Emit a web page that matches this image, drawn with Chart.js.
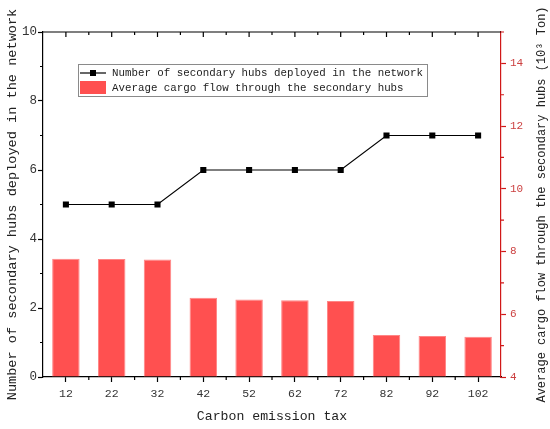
<!DOCTYPE html>
<html lang="en">
<head>
    <meta charset="UTF-8">
    <title>Secondary hubs vs carbon emission tax</title>
    <script src="https://cdn.jsdelivr.net/npm/chart.js"></script>
    <style>
        html, body { margin: 0; padding: 0; background: #fff; }
        #wrap { width: 550px; height: 429px; }
    </style>
</head>
<body>
    <div id="wrap"><canvas id="chart" width="550" height="429"></canvas></div>

    <script>
        // data
        const taxLabels = ['12', '22', '32', '42', '52', '62', '72', '82', '92', '102'];
        const hubCounts = [5, 5, 5, 6, 6, 6, 6, 7, 7, 7];
        const cargoFlow = [7.77, 7.76, 7.75, 6.53, 6.47, 6.45, 6.42, 5.34, 5.31, 5.28];

        const hubLabel = 'Number of secondary hubs deployed in the network';
        const cargoLabel = 'Average cargo flow through the secondary hubs';
        const cargoTitle = cargoLabel + ' (10\u00B3 Ton)';

        const FONT = "'Liberation Mono', 'DejaVu Sans Mono', monospace";
        const RED_AXIS = '#d01818';
        const RED_TEXT = '#cc4040';

        // minor ticks, top frame line, right title (reads bottom-up) and the boxed legend
        const framePlugin = {
            id: 'frame',
            afterDraw(chart) {
                const ctx = chart.ctx;
                const a = chart.chartArea;
                const x = chart.scales.x, y = chart.scales.y, y1 = chart.scales.y1;
                ctx.save();
                ctx.lineWidth = 1.2;
                ctx.strokeStyle = '#000';
                ctx.beginPath();
                ctx.moveTo(a.left, a.top);
                ctx.lineTo(a.right, a.top);
                const step = x.getPixelForTick(1) - x.getPixelForTick(0);
                for (let i = 0; i < taxLabels.length; i++) {
                    const px = x.getPixelForTick(i);
                    ctx.moveTo(px, a.top); ctx.lineTo(px, a.top + 5);
                    if (i < taxLabels.length - 1) {
                        ctx.moveTo(px + step / 2, a.top); ctx.lineTo(px + step / 2, a.top + 3);
                        ctx.moveTo(px + step / 2, a.bottom); ctx.lineTo(px + step / 2, a.bottom + 3);
                    }
                }
                for (let v = 1; v < 10; v += 2) {
                    const py = y.getPixelForValue(v);
                    ctx.moveTo(a.left, py); ctx.lineTo(a.left - 3, py);
                }
                ctx.stroke();

                ctx.strokeStyle = RED_AXIS;
                ctx.beginPath();
                for (let v = 5; v <= 15; v += 2) {
                    const py = y1.getPixelForValue(v);
                    ctx.moveTo(a.right, py); ctx.lineTo(a.right + 3, py);
                }
                ctx.stroke();

                // right axis title
                ctx.save();
                ctx.translate(542, (a.top + a.bottom) / 2);
                ctx.rotate(-Math.PI / 2);
                ctx.fillStyle = '#222';
                ctx.font = '12px ' + FONT;
                ctx.textAlign = 'center';
                ctx.textBaseline = 'middle';
                ctx.fillText(cargoTitle, 0, 0);
                ctx.restore();

                // legend
                const lx = 78, ly = 64, lw = 349, lh = 32;
                ctx.fillStyle = '#fff';
                ctx.fillRect(lx, ly, lw, lh);
                ctx.strokeStyle = '#8a8a8a';
                ctx.lineWidth = 1;
                ctx.strokeRect(lx + 0.5, ly + 0.5, lw, lh);

                const ds = chart.data.datasets;
                const r1 = 73, r2 = 88;
                ctx.strokeStyle = '#000';
                ctx.lineWidth = 1.2;
                ctx.beginPath();
                ctx.moveTo(80, r1); ctx.lineTo(106, r1);
                ctx.stroke();
                ctx.fillStyle = '#000';
                ctx.fillRect(90, r1 - 3, 6, 6);
                ctx.fillStyle = ds[1].backgroundColor;
                ctx.fillRect(80, r2 - 7, 26, 13);

                ctx.fillStyle = '#222';
                ctx.font = '10.8px ' + FONT;
                ctx.textBaseline = 'middle';
                ctx.fillText(ds[0].label, 112, r1);
                ctx.fillText(ds[1].label, 112, r2);
                ctx.restore();
            }
        };

        const ctx = document.getElementById('chart').getContext('2d');
        const chart = new Chart(ctx, {
            data: {
                labels: taxLabels,
                datasets: [{
                    type: 'line',
                    label: hubLabel,
                    data: hubCounts,
                    yAxisID: 'y',
                    borderColor: '#000',
                    borderWidth: 1.2,
                    pointStyle: 'rect',
                    pointRadius: 4.3,
                    pointBackgroundColor: '#000',
                    pointBorderWidth: 0,
                    tension: 0,
                    order: 1
                }, {
                    type: 'bar',
                    label: cargoLabel,
                    data: cargoFlow,
                    yAxisID: 'y1',
                    backgroundColor: '#ff5050',
                    borderColor: '#ff8585',
                    borderWidth: 1,
                    barPercentage: 0.6,
                    categoryPercentage: 1.0,
                    base: 4,
                    order: 2
                }]
            },
            options: {
                responsive: false,
                animation: false,
                devicePixelRatio: 1,
                layout: { padding: { top: 32, left: 0, right: 0, bottom: 0 } },
                plugins: {
                    legend: { display: false },
                    tooltip: { enabled: false }
                },
                scales: {
                    x: {
                        type: 'category',
                        offset: true,
                        afterFit(s) { s.height = 52; },
                        border: { color: '#000', width: 1.2 },
                        grid: { offset: false, drawOnChartArea: false, tickLength: 5, tickColor: '#000', tickWidth: 1.2 },
                        ticks: { color: '#333', font: { family: FONT, size: 11.5 }, padding: 5, maxRotation: 0 },
                        title: { display: true, text: 'Carbon emission tax', color: '#222',
                                 font: { family: FONT, size: 13.2 }, padding: { top: 0, bottom: 5 } }
                    },
                    y: {
                        position: 'left',
                        min: 0, max: 10,
                        afterFit(s) { s.width = 43; },
                        border: { color: '#000', width: 1.2 },
                        grid: { drawOnChartArea: false, tickLength: 5, tickColor: '#000', tickWidth: 1.2 },
                        ticks: { stepSize: 2, color: '#333', font: { family: FONT, size: 12.5 }, padding: 1 },
                        title: { display: true, text: hubLabel, color: '#222',
                                 font: { family: FONT, size: 13.6 }, padding: { top: 4, bottom: 0 } }
                    },
                    y1: {
                        position: 'right',
                        min: 4, max: 15,
                        afterFit(s) { s.width = 49; },
                        border: { color: RED_AXIS, width: 1.2 },
                        grid: { drawOnChartArea: false, tickLength: 5, tickColor: RED_AXIS, tickWidth: 1.2 },
                        ticks: { stepSize: 2, includeBounds: false, color: RED_TEXT,
                                 font: { family: FONT, size: 11 }, padding: 4 },
                        title: { display: false }
                    }
                }
            },
            plugins: [framePlugin]
        });
    </script>
</body>
</html>
